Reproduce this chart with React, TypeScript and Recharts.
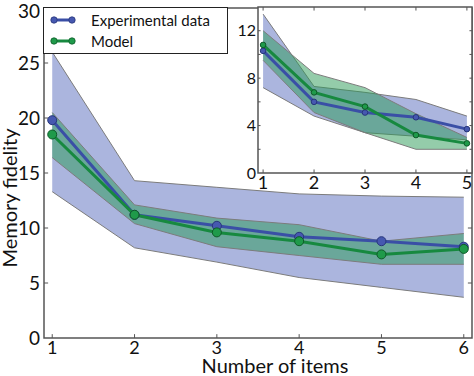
import React from "react";
import {
  ComposedChart,
  Area,
  Line,
  XAxis,
  YAxis,
  ReferenceArea,
  ReferenceLine,
  Label,
} from "recharts";

// main panel: set size 1..6
const items = [1, 2, 3, 4, 5, 6];
const expMean = [19.8, 11.2, 10.2, 9.2, 8.8, 8.3];
const expLow = [13.3, 8.2, 6.9, 5.5, 4.6, 3.7];
const expHigh = [26.0, 14.3, 13.7, 13.1, 12.9, 12.8];
const modelMean = [18.5, 11.2, 9.6, 8.8, 7.6, 8.1];
const modelLow = [16.4, 10.4, 8.3, 7.5, 6.7, 6.7];
const modelHigh = [20.5, 12.1, 10.9, 10.3, 8.8, 9.5];
const xTicks = [1, 2, 3, 4, 5, 6];
const yTicks = [0, 5, 10, 15, 20, 25, 30];

// inset panel: set size 1..5
const insetItems = [1, 2, 3, 4, 5];
const insetExpMean = [10.3, 6.0, 5.1, 4.7, 3.7];
const insetExpLow = [7.2, 4.8, 3.4, 3.1, 2.8];
const insetExpHigh = [13.4, 7.3, 6.8, 6.2, 4.8];
const insetModelMean = [10.8, 6.8, 5.6, 3.2, 2.5];
const insetModelLow = [9.5, 5.1, 3.4, 2.0, 2.0];
const insetModelHigh = [12.0, 8.4, 7.2, 5.0, 3.0];
const insetXTicks = [1, 2, 3, 4, 5];
const insetYTicks = [0, 4, 8, 12];

const mainData = items.map((n, i) => ({
  n,
  exp: expMean[i],
  expBand: [expLow[i], expHigh[i]],
  model: modelMean[i],
  modelBand: [modelLow[i], modelHigh[i]],
}));

const insetData = insetItems.map((n, i) => ({
  n,
  exp: insetExpMean[i],
  expBand: [insetExpLow[i], insetExpHigh[i]],
  model: insetModelMean[i],
  modelBand: [insetModelLow[i], insetModelHigh[i]],
}));

const FONT = "Lato, 'Open Sans', sans-serif";
const BLUE = "#3a4fa6";
const BLUE_DOT = "#4658b0";
const BLUE_EDGE = "#27367a";
const BLUE_FILL = "#abb5de";
const GREEN = "#17893f";
const GREEN_DOT = "#1f9a4a";
const GREEN_EDGE = "#0e5a28";
const GREEN_FILL = "#2a9a55";
const BAND_EDGE = "#7c7c7c";
const FRAME = "#555";

// inward tick marks on all four sides of a box
function boxTicks(
  xs: number[],
  ys: number[],
  xDom: [number, number],
  yDom: [number, number],
  xLen: number,
  yLen: number,
  prefix: string
) {
  const out: React.ReactElement[] = [];
  xs.forEach((t) => {
    out.push(
      <ReferenceLine key={`${prefix}b${t}`} segment={[{ x: t, y: yDom[0] }, { x: t, y: yDom[0] + yLen }]} stroke={FRAME} />,
      <ReferenceLine key={`${prefix}t${t}`} segment={[{ x: t, y: yDom[1] }, { x: t, y: yDom[1] - yLen }]} stroke={FRAME} />
    );
  });
  ys.forEach((t) => {
    out.push(
      <ReferenceLine key={`${prefix}l${t}`} segment={[{ x: xDom[0], y: t }, { x: xDom[0] + xLen, y: t }]} stroke={FRAME} />,
      <ReferenceLine key={`${prefix}r${t}`} segment={[{ x: xDom[1], y: t }, { x: xDom[1] - xLen, y: t }]} stroke={FRAME} />
    );
  });
  return out;
}

function LegendBox() {
  const rows = [
    { name: "Experimental data", color: BLUE, dot: BLUE_DOT, edge: BLUE_EDGE },
    { name: "Model", color: GREEN, dot: GREEN_DOT, edge: GREEN_EDGE },
  ];
  return (
    <div
      style={{
        position: "absolute",
        left: 43,
        top: 7,
        width: 183,
        height: 45,
        background: "#fff",
        border: "1px solid #222",
        fontFamily: FONT,
        fontSize: 15,
        color: "#111",
      }}
    >
      {rows.map((r, i) => (
        <div key={r.name} style={{ position: "absolute", left: 6, top: 2 + i * 21, height: 20, display: "flex", alignItems: "center" }}>
          <svg width={26} height={10} style={{ marginRight: 15 }}>
            <line x1={4} y1={5} x2={22} y2={5} stroke={r.color} strokeWidth={3} />
            <circle cx={4} cy={5} r={3.2} fill={r.dot} stroke={r.edge} strokeWidth={0.8} />
            <circle cx={22} cy={5} r={3.2} fill={r.dot} stroke={r.edge} strokeWidth={0.8} />
          </svg>
          <span>{r.name}</span>
        </div>
      ))}
    </div>
  );
}

function MainChart() {
  const xDom: [number, number] = [0.9, 6.1];
  const yDom: [number, number] = [0, 30];
  return (
    <ComposedChart width={474} height={376} data={mainData} margin={{ top: 8, right: 2, bottom: 0, left: 0 }}>
      <XAxis
        dataKey="n"
        type="number"
        domain={xDom}
        ticks={xTicks}
        allowDataOverflow
        height={38}
        tickSize={0}
        tickMargin={3}
        axisLine={false}
        tick={{ fontSize: 18, fill: "#111", fontFamily: FONT }}
      >
        <Label
          content={() => (
            <text x={275} y={373} textAnchor="middle" fontSize={20} fill="#111" fontFamily={FONT}>
              Number of items
            </text>
          )}
        />
      </XAxis>
      <YAxis
        type="number"
        domain={yDom}
        ticks={yTicks}
        allowDataOverflow
        width={44}
        tickSize={0}
        tickMargin={4}
        axisLine={false}
        tick={{ fontSize: 19, fill: "#111", fontFamily: FONT }}
      >
        <Label
          content={() => (
            <text x={17} y={198} transform="rotate(-90 17 198)" textAnchor="middle" fontSize={20} fill="#111" fontFamily={FONT}>
              Memory fidelity
            </text>
          )}
        />
      </YAxis>
      <Area dataKey="expBand" type="linear" fill={BLUE_FILL} fillOpacity={1} stroke={BAND_EDGE} strokeWidth={1} isAnimationActive={false} />
      <Area dataKey="modelBand" type="linear" fill={GREEN_FILL} fillOpacity={0.5} stroke={BAND_EDGE} strokeWidth={1} isAnimationActive={false} />
      <Line dataKey="exp" type="linear" stroke={BLUE} strokeWidth={3} dot={{ r: 4.5, fill: BLUE_DOT, stroke: BLUE_EDGE, strokeWidth: 1 }} isAnimationActive={false} />
      <Line dataKey="model" type="linear" stroke={GREEN} strokeWidth={3} dot={{ r: 4.5, fill: GREEN_DOT, stroke: GREEN_EDGE, strokeWidth: 1 }} isAnimationActive={false} />
      <ReferenceArea x1={xDom[0]} x2={xDom[1]} y1={yDom[0]} y2={yDom[1]} fill="none" stroke={FRAME} strokeWidth={1.5} />
      {boxTicks(xTicks, yTicks.slice(1, -1), xDom, yDom, 0.05, 0.35, "m")}
    </ComposedChart>
  );
}

function InsetChart() {
  const xDom: [number, number] = [0.9, 5.1];
  const yDom: [number, number] = [0, 14];
  return (
    <ComposedChart width={236} height={200} data={insetData} margin={{ top: 7, right: 2, bottom: 0, left: 0 }}>
      <XAxis
        dataKey="n"
        type="number"
        domain={xDom}
        ticks={insetXTicks}
        allowDataOverflow
        height={27}
        tickSize={0}
        tickMargin={3}
        axisLine={false}
        tick={{ fontSize: 18, fill: "#111", fontFamily: FONT }}
      />
      <YAxis
        type="number"
        domain={yDom}
        ticks={insetYTicks}
        allowDataOverflow
        width={20}
        tickSize={0}
        tickMargin={2}
        axisLine={false}
        tick={{ fontSize: 16, fill: "#111", fontFamily: FONT }}
      />
      <Area dataKey="expBand" type="linear" fill={BLUE_FILL} fillOpacity={1} stroke={BAND_EDGE} strokeWidth={1} isAnimationActive={false} />
      <Area dataKey="modelBand" type="linear" fill={GREEN_FILL} fillOpacity={0.5} stroke={BAND_EDGE} strokeWidth={1} isAnimationActive={false} />
      <Line dataKey="exp" type="linear" stroke={BLUE} strokeWidth={3} dot={{ r: 2.8, fill: BLUE_DOT, stroke: BLUE_EDGE, strokeWidth: 1 }} isAnimationActive={false} />
      <Line dataKey="model" type="linear" stroke={GREEN} strokeWidth={3} dot={{ r: 2.8, fill: GREEN_DOT, stroke: GREEN_EDGE, strokeWidth: 1 }} isAnimationActive={false} />
      <ReferenceArea x1={xDom[0]} x2={xDom[1]} y1={yDom[0]} y2={yDom[1]} fill="none" stroke={FRAME} strokeWidth={1.5} />
      {boxTicks(insetXTicks, [2, 4, 6, 8, 10, 12], xDom, yDom, 0.05, 0.3, "i")}
    </ComposedChart>
  );
}

export default function App() {
  return (
    <div style={{ position: "absolute", left: 0, top: 0, width: 474, height: 376, background: "#fff", overflow: "hidden" }}>
      <MainChart />
      <LegendBox />
      {/* white plot background behind the inset */}
      <div style={{ position: "absolute", left: 258, top: 7, width: 214, height: 166, background: "#fff" }} />
      <div style={{ position: "absolute", left: 238, top: 0 }}>
        <InsetChart />
      </div>
    </div>
  );
}
